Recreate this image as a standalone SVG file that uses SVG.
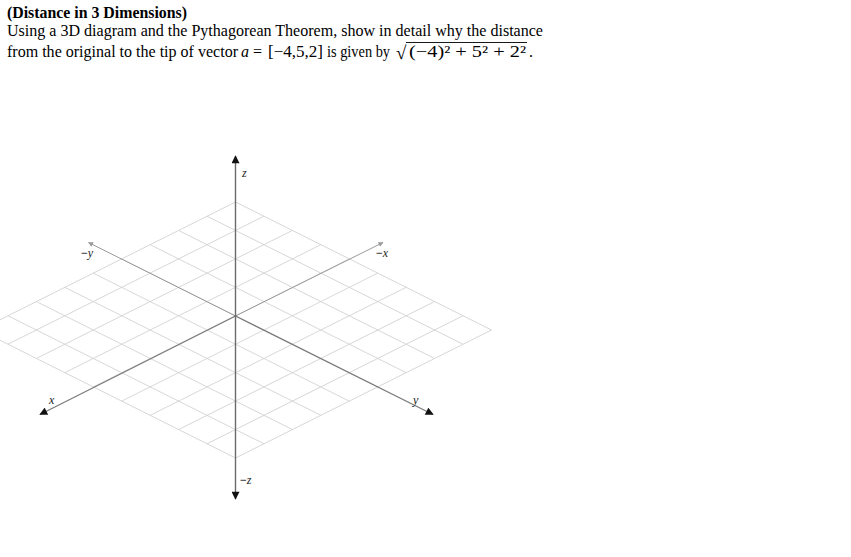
<svg xmlns="http://www.w3.org/2000/svg" width="851" height="557" viewBox="0 0 851 557">
<style>
.t{font-family:"Liberation Serif","Times New Roman",serif;font-size:16px;fill:#000}
.b{font-weight:bold}
.i{font-style:italic}
.lbl{font-family:"Liberation Serif","Times New Roman",serif;font-size:12px;font-style:italic;fill:#222}
.m{font-style:normal;font-weight:bold}
.grid line{stroke:#d2d2d2;stroke-width:0.9}
.ax{stroke:#7a7a7a;stroke-width:1.2;fill:none}
.axz{stroke:#6a6a6a;stroke-width:1.4;fill:none}
.neg{stroke:#9a9a9a;stroke-width:1;fill:none}
</style>
<defs>
<marker id="ah" viewBox="0 0 10 10" refX="9" refY="5" markerUnits="userSpaceOnUse" markerWidth="9" markerHeight="8" orient="auto">
<path d="M0,0 L10,5 L0,10 z" fill="#111"/>
</marker>
<marker id="ahs" viewBox="0 0 10 10" refX="9" refY="5" markerUnits="userSpaceOnUse" markerWidth="5" markerHeight="5" orient="auto">
<path d="M0,0 L10,5 L0,10 z" fill="#999"/>
</marker>
</defs>
<rect width="851" height="557" fill="#fff"/>
<g id="question">
<text class="t b" x="7" y="18" textLength="180" lengthAdjust="spacingAndGlyphs">(Distance in 3 Dimensions)</text>
<text class="t" x="7" y="36" textLength="536" lengthAdjust="spacingAndGlyphs">Using a 3D diagram and the Pythagorean Theorem, show in detail why the distance</text>
<text class="t" x="7" y="57" textLength="231" lengthAdjust="spacingAndGlyphs">from the original to the tip of vector</text>
<text class="t i" x="241" y="57">a</text>
<text class="t" x="253" y="57">=</text>
<text class="t" x="268" y="57" textLength="55" lengthAdjust="spacingAndGlyphs">[−4,5,2]</text>
<text class="t" x="327" y="57" textLength="63" lengthAdjust="spacingAndGlyphs">is given by</text>
<text class="t" x="396" y="59" style="font-size:19px">√</text>
<line x1="406" y1="42.5" x2="527" y2="42.5" stroke="#000" stroke-width="0.9"/>
<text class="t" x="409" y="57" textLength="117" lengthAdjust="spacingAndGlyphs">(−4)² + 5² + 2²</text>
<text class="t" x="529" y="57">.</text>
</g>
<g id="grid" class="grid">
<line x1="235.5" y1="202" x2="491.5" y2="330"/>
<line x1="207.06" y1="216.22" x2="463.06" y2="344.22"/>
<line x1="178.61" y1="230.44" x2="434.61" y2="358.44"/>
<line x1="150.17" y1="244.67" x2="406.17" y2="372.67"/>
<line x1="121.72" y1="258.89" x2="377.72" y2="386.89"/>
<line x1="93.28" y1="273.11" x2="349.28" y2="401.11"/>
<line x1="64.83" y1="287.33" x2="320.83" y2="415.33"/>
<line x1="36.39" y1="301.56" x2="292.39" y2="429.56"/>
<line x1="7.94" y1="315.78" x2="263.94" y2="443.78"/>
<line x1="-20.5" y1="330" x2="235.5" y2="458"/>
<line x1="235.5" y1="202" x2="-20.5" y2="330"/>
<line x1="263.94" y1="216.22" x2="7.94" y2="344.22"/>
<line x1="292.39" y1="230.44" x2="36.39" y2="358.44"/>
<line x1="320.83" y1="244.67" x2="64.83" y2="372.67"/>
<line x1="349.28" y1="258.89" x2="93.28" y2="386.89"/>
<line x1="377.72" y1="273.11" x2="121.72" y2="401.11"/>
<line x1="406.17" y1="287.33" x2="150.17" y2="415.33"/>
<line x1="434.61" y1="301.56" x2="178.61" y2="429.56"/>
<line x1="463.06" y1="315.78" x2="207.06" y2="443.78"/>
<line x1="491.5" y1="330" x2="235.5" y2="458"/>
</g>
<g id="axes">
<line class="neg" x1="235.5" y1="316" x2="88.5" y2="242.5" marker-end="url(#ahs)"/>
<line class="neg" x1="235.5" y1="316" x2="383" y2="242.5" marker-end="url(#ahs)"/>
<line class="ax" x1="235.5" y1="316" x2="40" y2="414.5" marker-end="url(#ah)"/>
<line class="ax" x1="235.5" y1="316" x2="433" y2="414.5" marker-end="url(#ah)"/>
<line class="axz" x1="235.5" y1="316" x2="235.5" y2="156" marker-end="url(#ah)"/>
<line class="axz" x1="235.5" y1="316" x2="235.5" y2="499" marker-end="url(#ah)"/>
</g>
<g id="labels">
<text class="lbl" x="242" y="177">z</text>
<text class="lbl" x="81" y="257"><tspan class="m">−</tspan>y</text>
<text class="lbl" x="376" y="257"><tspan class="m">−</tspan>x</text>
<text class="lbl" x="49" y="404">x</text>
<text class="lbl" x="413" y="404">y</text>
<text class="lbl" x="240" y="484"><tspan class="m">−</tspan>z</text>
</g>
</svg>
